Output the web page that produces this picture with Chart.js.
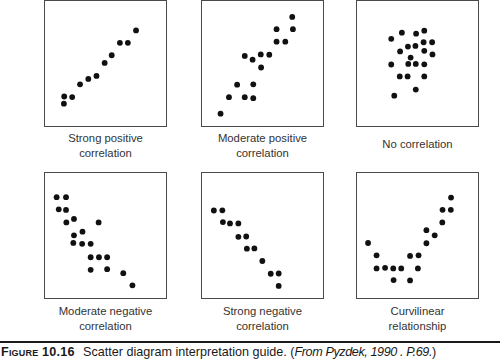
<!DOCTYPE html>
<html>
<head>
<meta charset="utf-8">
<script src="https://cdn.jsdelivr.net/npm/chart.js@4.4.0/dist/chart.umd.min.js"></script>
<style>
  html, body { margin:0; padding:0; background:#fff; }
  body { width:500px; height:359px; position:relative; overflow:hidden; font-family:"Liberation Sans", Arial, sans-serif; }
  .box { position:absolute; border:1.5px solid #4a4a4a; box-sizing:border-box; width:123px; height:127px; }
  .box canvas { position:absolute; left:0; top:0; }
  .cap { position:absolute; width:160px; text-align:center; font-size:11.3px; line-height:15px; color:#333; }
  #rule { position:absolute; left:0; top:341px; width:500px; height:2px; background:#1a1a1a; }
  #figcap { position:absolute; left:1px; top:345px; font-size:12.6px; color:#1a1a1a; white-space:nowrap; }
  #figcap b { font-variant:small-caps; letter-spacing:0.2px; margin-right:5px; }
  #figcap i { letter-spacing:-0.4px; }
</style>
</head>
<body>
<div id="rule"></div>
<div id="figcap"><b>Figure 10.16</b> Scatter diagram interpretation guide. (<i>From Pyzdek, 1990 . P.69.</i>)</div>
<script>
// panel captions
const captions = [
  ["Strong positive", "correlation"],
  ["Moderate positive", "correlation"],
  ["No correlation"],
  ["Moderate negative", "correlation"],
  ["Strong negative", "correlation"],
  ["Curvilinear", "relationship"]
];

// dot positions, 0-100 inside each box
const strongPosX = [13.6, 20.7, 13.3, 27.7, 35.1, 42.4, 49.7, 56.0, 63.3, 70.4, 77.7];
const strongPosY = [21.1, 20.6, 14.9, 31.6, 36.3, 38.9, 50.1, 56.7, 67.4, 67.4, 78.1];

const modPosX = [77.0, 63.0, 77.6, 63.0, 70.8, 34.6, 41.6, 48.9, 56.5, 49.2, 27.8, 42.2, 20.5, 34.6, 42.2, 13.0];
const modPosY = [89.7, 79.2, 79.2, 68.4, 68.4, 56.1, 52.9, 57.4, 57.1, 46.1, 31.3, 31.6, 20.5, 20.5, 19.7, 6.3];

const noCorrX = [27.0, 36.5, 49.2, 56.5, 41.9, 48.6, 55.9, 63.5, 34.9, 56.5, 63.8, 44.3, 27.0, 42.2, 48.9, 56.5, 34.6, 41.6, 56.5, 48.9, 29.7];
const noCorrY = [70.8, 76.1, 75.3, 77.9, 64.2, 64.7, 67.9, 67.9, 60.0, 60.5, 57.4, 54.7, 48.7, 49.2, 49.2, 48.9, 38.4, 38.4, 38.4, 27.1, 21.8];

const modNegX = [6.8, 15.2, 8.7, 15.2, 15.5, 22.3, 44.3, 22.3, 29.9, 21.7, 29.6, 37.2, 37.2, 44.6, 51.9, 37.2, 51.9, 66.3, 74.5];
const modNegY = [82.6, 82.6, 72.1, 71.6, 60.8, 63.9, 60.8, 49.7, 52.9, 43.2, 42.4, 42.4, 30.8, 30.8, 30.8, 20.0, 20.5, 17.1, 6.6];

const strongNegX = [7.0, 14.6, 15.1, 21.4, 28.9, 28.9, 35.9, 36.5, 43.2, 50.3, 57.8, 64.9, 64.9];
const strongNegY = [71.1, 71.3, 61.1, 60.0, 60.0, 48.4, 48.7, 38.2, 38.4, 27.6, 16.6, 16.8, 6.1];

const curveX = [6.3, 13.9, 13.9, 21.5, 28.8, 35.9, 29.1, 43.8, 43.8, 51.4, 50.8, 58.4, 58.4, 65.8, 72.6, 72.8, 80.2, 80.4];
const curveY = [43.1, 32.5, 21.2, 21.7, 21.2, 21.2, 11.1, 10.8, 32.0, 32.5, 21.2, 54.2, 42.9, 49.7, 60.8, 71.7, 71.7, 82.3];

const panelXs = [strongPosX, modPosX, noCorrX, modNegX, strongNegX, curveX];
const panelYs = [strongPosY, modPosY, noCorrY, modNegY, strongNegY, curveY];

// layout
const colLeft = [44, 201, 356];
const rowTop = [0, 172];
const boxW = 123, boxH = 127;

panelXs.forEach((xs, i) => {
  const col = i % 3, row = Math.floor(i / 3);
  const box = document.createElement('div');
  box.className = 'box';
  box.style.left = colLeft[col] + 'px';
  box.style.top = rowTop[row] + 'px';
  const cv = document.createElement('canvas');
  cv.width = boxW - 3; cv.height = boxH - 3;
  box.appendChild(cv);
  document.body.appendChild(box);

  const pts = xs.map((x, k) => ({ x: x, y: panelYs[i][k] }));
  new Chart(cv.getContext('2d'), {
    type: 'scatter',
    data: { datasets: [{ data: pts, pointRadius: 2.9, pointBackgroundColor: '#111', pointBorderWidth: 0, clip: false }] },
    options: {
      responsive: false, animation: false, devicePixelRatio: 1,
      layout: { padding: 0 },
      scales: {
        x: { type: 'linear', min: 0, max: 100, display: false },
        y: { type: 'linear', min: 0, max: 100, display: false }
      },
      plugins: { legend: { display: false }, tooltip: { enabled: false } }
    }
  });

  const cap = document.createElement('div');
  cap.className = 'cap';
  cap.style.left = (colLeft[col] + boxW / 2 - 80) + 'px';
  const lines = captions[i];
  const top = row === 0 ? 131 : 304;
  cap.style.top = (lines.length === 1 ? top + 6 : top) + 'px';
  cap.innerHTML = lines.join('<br>');
  document.body.appendChild(cap);
});
</script>
</body>
</html>
